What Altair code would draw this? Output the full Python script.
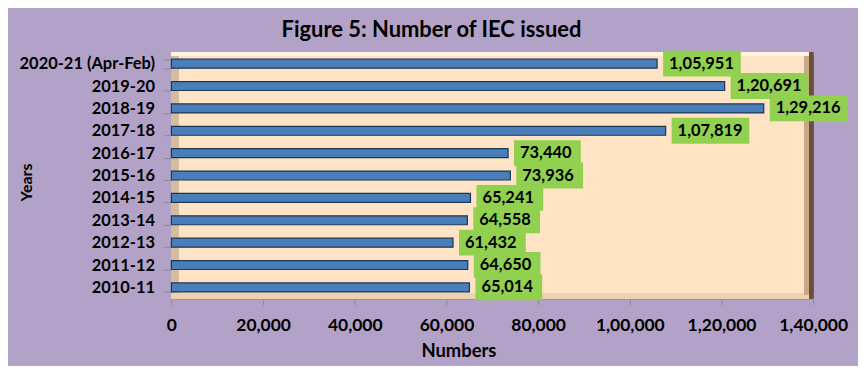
import altair as alt
import pandas as pd

years = ["2020-21 (Apr-Feb)", "2019-20", "2018-19", "2017-18", "2016-17", "2015-16",
         "2014-15", "2013-14", "2012-13", "2011-12", "2010-11"]
iec_issued = [105951, 120691, 129216, 107819, 73440, 73936, 65241, 64558, 61432, 64650, 65014]
value_labels = ["1,05,951", "1,20,691", "1,29,216", "1,07,819", "73,440", "73,936",
                "65,241", "64,558", "61,432", "64,650", "65,014"]
tick_values = [0, 20000, 40000, 60000, 80000, 100000, 120000, 140000]
tick_labels = ["0", "20,000", "40,000", "60,000", "80,000", "1,00,000", "1,20,000", "1,40,000"]

df = pd.DataFrame({"year": years, "value": iec_issued, "label": value_labels})

FONT = "Lato"
W, H = 644, 247

label_expr = ""
for v, l in zip(tick_values, tick_labels):
    label_expr += f"datum.value == {v} ? '{l}' : "
label_expr += "''"

base = alt.Chart(df)

y_enc = alt.Y("year:N", sort=years,
              scale=alt.Scale(paddingInner=0.6, paddingOuter=0.3),
              axis=alt.Axis(title="Years", ticks=True, tickBand="extent", tickSize=8,
                            tickColor="#8c8c8c", labelPadding=9,
                            labelFont=FONT, labelFontSize=16.5, labelFontWeight="bold",
                            labelColor="#000000", domainColor="#8c8c8c",
                            titleFont=FONT, titleFontSize=16, titleFontWeight="bold",
                            titleColor="#000000", titleX=-145, titleY=130,
                            titleAlign="center", titleBaseline="middle"))

x_enc = alt.X("value:Q", scale=alt.Scale(domain=[0, 140000], nice=False),
              axis=alt.Axis(title="Numbers", values=tick_values, labelExpr=label_expr,
                            grid=False, tickSize=6, tickColor="#8c8c8c",
                            domainColor="#8c8c8c", labelPadding=12, labelFlush=False,
                            labelFont=FONT, labelFontSize=17.5, labelFontWeight="bold",
                            labelColor="#000000", titleFont=FONT, titleFontSize=18.5,
                            titleFontWeight="bold", titleColor="#000000",
                            titlePadding=8, titleX=288, titleAnchor="start",
                            titleAlign="center"))

# 3D wall decorations
left_wall = alt.Chart(df).mark_rect(color="#d4bd9f").encode(
    x=alt.value(0), x2=alt.value(7), y=alt.value(0), y2=alt.value(H))
floor = alt.Chart(df).mark_rect(color="#ead2b2").encode(
    x=alt.value(0), x2=alt.value(W), y=alt.value(H - 5), y2=alt.value(H))
right_wall = alt.Chart(df).mark_rect(color="#6b5038").encode(
    x=alt.value(W - 4), x2=alt.value(W), y=alt.value(0), y2=alt.value(H))
right_shade = alt.Chart(df).mark_rect(color="#c9a985").encode(
    x=alt.value(W - 9), x2=alt.value(W - 4), y=alt.value(4), y2=alt.value(H - 4))
top_edge = alt.Chart(df).mark_rect(color="#fff3e2").encode(
    x=alt.value(0), x2=alt.value(W), y=alt.value(0), y2=alt.value(3))

bars = base.mark_bar(color="#4a7ebb", stroke="#1c3656", strokeWidth=1.2).encode(
    x=x_enc, y=y_enc)

long_boxes = base.transform_filter("length(datum.label) > 6").mark_bar(
    color="#92d050", height=26, xOffset=6, x2Offset=84).encode(
    x="value:Q", x2="value", y=alt.Y("year:N", sort=years))
short_boxes = base.transform_filter("length(datum.label) <= 6").mark_bar(
    color="#92d050", height=26, xOffset=6, x2Offset=73).encode(
    x="value:Q", x2="value", y=alt.Y("year:N", sort=years))

texts = base.mark_text(align="left", baseline="middle", dx=12, font=FONT,
                       fontSize=16.5, fontWeight="bold", color="#000000").encode(
    x="value:Q", y=alt.Y("year:N", sort=years), text="label:N")

chart = alt.layer(left_wall, floor, top_edge, right_shade, right_wall,
                  bars, long_boxes, short_boxes, texts).properties(
    width=W, height=H,
    title=alt.TitleParams("Figure 5: Number of IEC issued", font=FONT, fontSize=22,
                          fontWeight="bold", color="#000000", anchor="middle",
                          dx=-61, offset=3),
    background="#b3a2c7",
    autosize=alt.AutoSizeParams(type="none"),
    padding={"left": 164, "top": 44, "right": 45, "bottom": 67},
).configure_view(fill="#fee3c4", stroke=None)

chart.save("out.html", embed_options={"renderer": "svg", "actions": False})
